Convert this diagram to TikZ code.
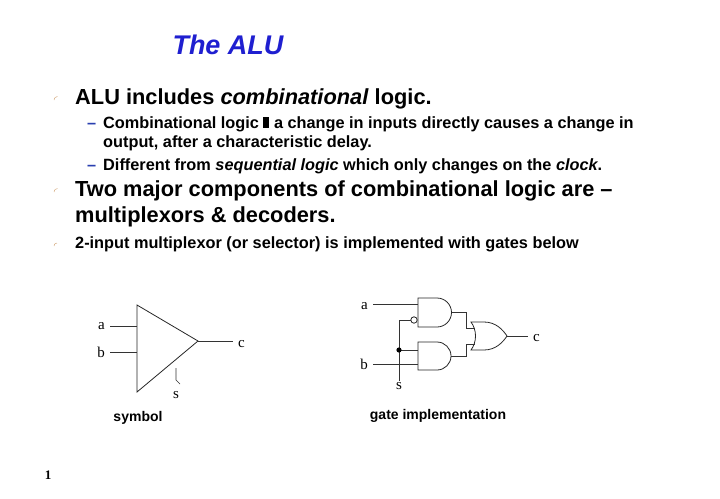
\documentclass[tikz,border=0pt]{standalone}
\usepackage{fontspec}
\setmainfont{Liberation Sans}
\newfontfamily\serifed{Liberation Serif}
\usetikzlibrary{positioning, calc}
\definecolor{titleblue}{HTML}{1F1FD0}
\definecolor{dashblue}{HTML}{2A3FB0}
\begin{document}
\begin{tikzpicture}[x=1pt, y=-1pt,
  item/.style={anchor=base west, inner sep=0pt, font=\bfseries\fontsize{21.8}{26}\selectfont},
  subitem/.style={anchor=base west, inner sep=0pt, align=left, font=\bfseries\fontsize{16.3}{19}\selectfont},
  subdash/.style={anchor=base west, inner sep=0pt, text=dashblue, font=\bfseries\fontsize{16.3}{19}\selectfont},
  pin/.style={inner sep=5pt, font=\serifed\fontsize{15}{15}\selectfont},
  caption/.style={inner sep=0pt, font=\bfseries\fontsize{14}{16}\selectfont},
  wire/.style={draw=black!80, line width=0.7pt},
  gate/.style={draw=black!85, line width=0.8pt},
  bulletmark/.style={draw=brown!70, line width=0.5pt}
]
  \useasboundingbox (0,0) rectangle (720,498);

  % Title
  \node[inner sep=0pt, text=titleblue, font=\bfseries\itshape\fontsize{27}{30}\selectfont] (title) at (228,45) {The ALU};

  % Bullets
  \foreach \yb/\r in {100/3.5, 192/3.5, 246/3}
    \draw[bulletmark] (54,\yb) arc (180:270:\r);
  \node[item] (b1) at (75,104) {ALU includes \textit{combinational} logic.};
  \node[subdash] (d1) at (87,128) {--};
  \node[subitem] (s1) at (103,147) {Combinational logic \rule[0.5pt]{6pt}{11pt} a change in inputs directly causes a change in\\output, after a characteristic delay.};
  \node[subdash] (d2) at (87,170) {--};
  \node[subitem] (s2) at (103,170) {Different from \textit{sequential logic} which only changes on the \textit{clock}.};
  \node[item, align=left] (b2) at (75,222) {Two major components of combinational logic are --\\multiplexors \& decoders.};
  \node[subitem] (b3) at (75,248) {2-input multiplexor (or selector) is implemented with gates below};

  % Symbol
  \coordinate (tl) at (137,305);
  \coordinate (bl) at (137,392);
  \coordinate (tip) at (198,341);
  \draw[gate] (tl) -- (tip) -- (bl) -- cycle;
  \coordinate (ina) at (137,326);
  \coordinate (inb) at (137,352);
  \coordinate (sel) at (176,368);
  \node[pin, anchor=east] (la) at (110,326) {a};
  \node[pin, anchor=east] (lb) at (110,352) {b};
  \node[pin, anchor=west] (lc) at (233,344) {c};
  \node[pin, anchor=north, inner sep=1pt] (ls) at (176,390) {s};
  \draw[wire] (la.east) -- (ina);
  \draw[wire] (lb.east) -- (inb);
  \draw[wire] (tip) -- (lc.west |- tip);
  \draw[wire] (sel) -- (176,380) -- (180,384);
  \node[caption] (symcap) at (138,418) {symbol};

  % Gate implementation
  \draw[gate] (418,298) -- (437,298) arc (-90:90:14.5) -- (418,327) -- cycle;
  \coordinate (and1out) at (451.5,312.5);
  \draw[gate] (418,342) -- (437,342) arc (-90:90:14) -- (418,370) -- cycle;
  \coordinate (and2out) at (451,356);
  \draw[gate] (471,322) -- (484,322) .. controls (496,322) and (503,330) .. (507,336)
    .. controls (503,342) and (496,350) .. (484,350) -- (471,350)
    .. controls (477,342) and (477,330) .. (471,322) -- cycle;
  \coordinate (orout) at (507,336);
  \draw[gate, fill=white] (414,320) circle (3.2);
  \node[pin, anchor=east] (ga) at (373,306) {a};
  \node[pin, anchor=east] (gb) at (373,364) {b};
  \node[pin, anchor=north, inner sep=1pt] (gs) at (399,381) {s};
  \node[pin, anchor=west] (gc) at (528,338) {c};
  \draw[wire] (ga.east |- 0,304) -- (418,304);
  \draw[wire] (gb.east |- 0,364) -- (418,364);
  \draw[wire] (410.8,320) -- (399,320) -- (gs.north);
  \draw[wire] (399,350) -- (418,350);
  \fill (399,350) circle (2.6);
  \draw[wire] (and1out) -- (466,312.5) -- (466,328) -- (474.5,328);
  \draw[wire] (and2out) -- (466,356) -- (466,344) -- (474.5,344);
  \draw[wire] (orout) -- (gc.west |- orout);
  \node[caption] (gatecap) at (438,416) {gate implementation};

  % Page number
  \node[inner sep=0pt, font=\serifed\bfseries\fontsize{13}{13}\selectfont] (page) at (48,475) {1};
\end{tikzpicture}
\end{document}
